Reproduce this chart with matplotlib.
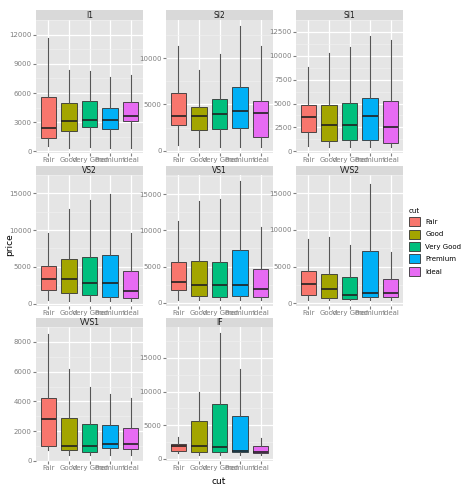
import matplotlib
matplotlib.use("Agg")
import matplotlib.pyplot as plt
from matplotlib.patches import Patch

cuts = ["Fair", "Good", "Very Good", "Premium", "Ideal"]
colors = ["#F8766D", "#A3A500", "#00BF7D", "#00B0F6", "#E76BF3"]
clarity = ["I1", "SI2", "SI1", "VS2", "VS1", "VVS2", "VVS1", "IF"]

# per clarity: [lower whisker, q1, median, q3, upper whisker] per cut
stats = {
    "I1":   [[600,1400,2400,5600,11600],[400,2050,3100,4950,8400],[500,2550,3250,5150,8300],[400,2300,3250,4500,7600],[400,3150,3650,5100,7800]],
    "SI2":  [[600,2800,3700,6250,11300],[400,2200,3800,4750,8700],[400,2300,4000,5550,10500],[400,2450,4250,6900,13500],[400,1450,4100,5350,11300]],
    "SI1":  [[500,2050,3550,4800,8800],[400,1050,2750,4800,10250],[400,1200,2800,5100,10900],[400,1200,3650,5600,12100],[400,900,2550,5300,11700]],
    "VS2":  [[470,1860,3320,5100,9640],[400,1420,3360,6000,12880],[400,1150,2850,6280,14070],[400,950,2850,6600,14980],[400,790,1780,4390,9640]],
    "VS1":  [[400,1800,2900,5600,11300],[400,900,2450,5750,14000],[400,800,2450,5700,14300],[400,900,2450,7300,16800],[400,850,1900,4700,10500]],
    "VVS2": [[400,1170,2550,4330,8740],[400,650,1900,4030,9000],[400,520,1040,3550,8000],[400,870,1390,7060,16300],[400,780,1390,3250,6930]],
    "VVS1": [[750,1020,2830,4210,8550],[400,710,1020,2900,6150],[400,600,980,2490,4990],[400,890,1160,2380,4500],[400,820,1160,2200,4250]],
    "IF":   [[840,1240,1880,2280,3320],[600,990,1930,5590,9950],[600,990,1830,8120,18660],[600,1090,1240,6340,13320],[600,940,1090,1880,3070]],
}
yticks = {
    "I1": [0,3000,6000,9000,12000], "SI2": [0,5000,10000], "SI1": [0,2500,5000,7500,10000,12500],
    "VS2": [0,5000,10000,15000], "VS1": [0,5000,10000,15000], "VVS2": [0,5000,10000,15000],
    "VVS1": [0,2000,4000,6000,8000], "IF": [0,5000,10000,15000],
}

W, H = 474, 490
fig = plt.figure(figsize=(W/100, H/100), dpi=100)
cols_x = [(36, 143), (166, 273), (296, 403)]
rows_y = [(10, 20, 153), (166, 175, 306), (318, 327, 461)]

for i, cl in enumerate(clarity):
    r, c = divmod(i, 3)
    x0, x1 = cols_x[c]
    st, sb, pb = rows_y[r]
    ax = fig.add_axes([x0/W, 1-pb/H, (x1-x0)/W, (pb-sb)/H])
    sx = fig.add_axes([x0/W, 1-sb/H, (x1-x0)/W, (sb-st)/H])
    sx.set_facecolor("#D9D9D9"); sx.set_xticks([]); sx.set_yticks([])
    for s in sx.spines.values(): s.set_visible(False)
    sx.text(0.5, 0.45, cl, ha="center", va="center", fontsize=5.5, color="#1A1A1A", transform=sx.transAxes)

    ax.set_facecolor("#E5E5E5")
    bxps = [dict(whislo=s[0], q1=s[1], med=s[2], q3=s[3], whishi=s[4], fliers=[]) for s in stats[cl]]
    b = ax.bxp(bxps, positions=range(1, 6), widths=0.75, patch_artist=True, showcaps=False,
               boxprops=dict(linewidth=0.6, edgecolor="#333333"),
               whiskerprops=dict(color="#555555", linewidth=0.8),
               medianprops=dict(color="#222222", linewidth=1.2), zorder=3)
    for p, col in zip(b["boxes"], colors):
        p.set_facecolor(col)
    lo = min(s[0] for s in stats[cl]); hi = max(s[4] for s in stats[cl])
    pad = 0.05*(hi-lo)
    ax.set_ylim(lo-pad, hi+pad)
    ax.set_xlim(0.4, 5.6)
    yt = yticks[cl]
    ax.set_yticks(yt)
    ax.set_yticklabels([str(v) for v in yt], fontsize=5, color="#7F7F7F")
    ax.set_yticks([(a+b2)/2 for a, b2 in zip(yt[:-1], yt[1:])] + [yt[-1]+(yt[1]-yt[0])/2], minor=True)
    ax.set_xticks(range(1, 6))
    ax.set_xticklabels(cuts, fontsize=5, color="#7F7F7F")
    ax.tick_params(length=2, color="#7F7F7F", pad=1)
    ax.tick_params(which="minor", length=0)
    ax.grid(True, which="major", color="white", linewidth=0.9, zorder=0)
    ax.grid(True, which="minor", color="#F2F2F2", linewidth=0.4, zorder=0)
    ax.set_axisbelow(True)
    for s in ax.spines.values(): s.set_visible(False)

fig.text(10/W, 1-245/H, "price", rotation=90, ha="center", va="center", fontsize=6.5)
fig.text(219/W, 1-481/H, "cut", ha="center", va="center", fontsize=6.5)
handles = [Patch(facecolor=c, edgecolor="#333333", linewidth=0.6) for c in colors]
leg = fig.legend(handles, cuts, loc="upper left", bbox_to_anchor=(406/W, 1-205/H), fontsize=5,
                 title="cut", title_fontsize=5, frameon=False, handlelength=1.6, handleheight=1.6,
                 labelspacing=0.5, borderaxespad=0)
leg._legend_box.align = "left"
fig.savefig("out.png", dpi=100)
